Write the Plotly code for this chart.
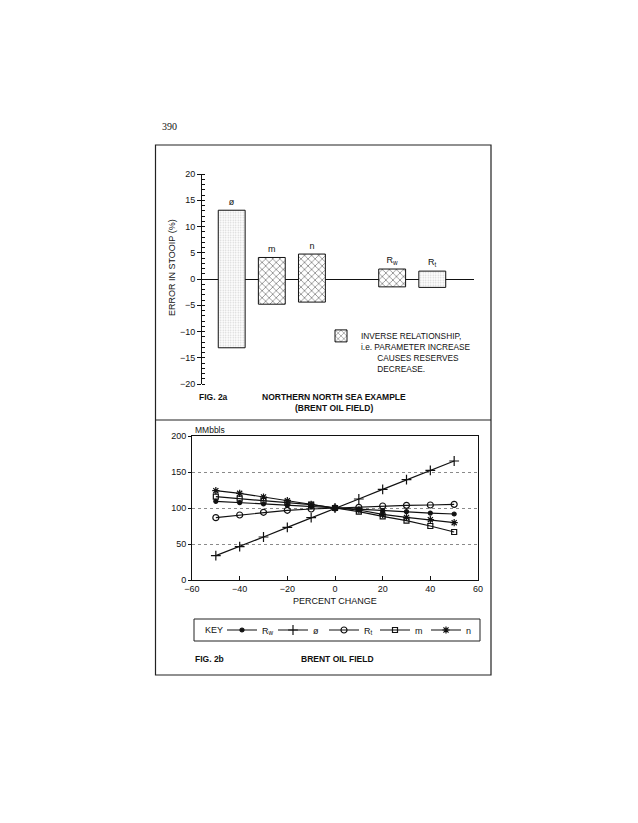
import plotly.graph_objects as go

W, H = 638, 823
FONT = "Liberation Sans"
INK = "#111111"

# ---------------- data: Fig. 2a (tornado-style error bars) ----------------
params = ["ø", "m", "n", "Rw", "Rt"]
param_labels = ["ø", "m", "n", "R<sub>w</sub>", "R<sub>t</sub>"]
error_upper = [13.1, 4.1, 4.75, 1.9, 1.5]
error_lower = [-13.1, -4.8, -4.4, -1.5, -1.6]
relationship = ["direct", "inverse", "inverse", "inverse", "direct"]
slot_order = ["ø", "m", "n", " ", "Rw", "Rt"]   # blank slot separates groups

# ---------------- data: Fig. 2b (STOOIP vs percent change) ----------------
pct_change = [-50, -40, -30, -20, -10, 0, 10, 20, 30, 40, 50]
stooip_rw = [109.3, 107.4, 105.6, 103.7, 101.9, 100, 98.1, 96.3, 94.9, 93.0, 91.7]
stooip_phi = [33.8, 46.3, 59.7, 73.1, 86.6, 100, 112.5, 125.9, 139.4, 152.3, 165.3]
stooip_rt = [86.6, 90.3, 94.0, 96.8, 98.6, 100, 101.0, 102.8, 103.7, 104.2, 105.1]
stooip_m = [115.7, 113.0, 110.0, 107.4, 104.6, 100, 95.0, 88.4, 82.4, 75.0, 66.7]
stooip_n = [124.0, 120.4, 115.3, 110.2, 105.0, 100, 97.2, 91.2, 87.0, 83.8, 79.6]
series_names = ["R<sub>w</sub>", "ø", "R<sub>t</sub>", "m", "n"]
series_values = [stooip_rw, stooip_phi, stooip_rt, stooip_m, stooip_n]


def px(x):
    return x / W


def py(y):
    return 1 - y / H


pattern_style = {
    "direct": dict(shape=".", size=2.5, solidity=0.3, fg="#a8a8a8"),
    "inverse": dict(shape="x", size=5, solidity=0.3, fg="#111111"),
}

fig = go.Figure()

fig.add_trace(go.Bar(
    x=params,
    base=error_lower,
    y=[u - l for u, l in zip(error_upper, error_lower)],
    width=0.67,
    text=param_labels,
    textposition="outside",
    textfont=dict(family=FONT, size=9, color=INK),
    cliponaxis=False,
    marker=dict(
        color="white",
        line=dict(color=INK, width=1),
        pattern=dict(
            shape=[pattern_style[r]["shape"] for r in relationship],
            size=[pattern_style[r]["size"] for r in relationship],
            solidity=[pattern_style[r]["solidity"] for r in relationship],
            fgcolor=[pattern_style[r]["fg"] for r in relationship],
            bgcolor="white",
            fillmode="overlay",
        ),
    ),
    showlegend=False,
    hoverinfo="skip",
    xaxis="x", yaxis="y",
))

# legend swatch for the inverse relationship hatch
inv = pattern_style["inverse"]
fig.add_trace(go.Bar(
    x=[None], y=[None],
    name=("INVERSE RELATIONSHIP,<br>i.e. PARAMETER INCREASE<br>"
          "\u00a0\u00a0\u00a0\u00a0\u00a0\u00a0\u00a0CAUSES RESERVES<br>"
          "\u00a0\u00a0\u00a0\u00a0\u00a0\u00a0\u00a0DECREASE."),
    marker=dict(color="white", line=dict(color=INK, width=1),
                pattern=dict(shape=inv["shape"], size=inv["size"],
                             solidity=inv["solidity"], fgcolor=inv["fg"],
                             bgcolor="white", fillmode="overlay")),
    legend="legend2",
    xaxis="x", yaxis="y",
))

symbols = ["circle", "cross-thin-open", "circle-open", "square-open", "asterisk-open"]
sizes = [4, 7, 6, 5, 6]
for name, vals, sym, sz in zip(series_names, series_values, symbols, sizes):
    fig.add_trace(go.Scatter(
        x=pct_change, y=vals, name=name, mode="lines+markers",
        line=dict(color=INK, width=1.2),
        marker=dict(symbol=sym, size=sz, color=INK,
                    line=dict(color=INK, width=1.2)),
        xaxis="x2", yaxis="y2", legend="legend",
    ))

tickfont = dict(family=FONT, size=9, color=INK)

fig.update_layout(
    width=W, height=H,
    margin=dict(l=0, r=0, t=0, b=0, pad=0),
    paper_bgcolor="white", plot_bgcolor="white",
    barmode="overlay",
    font=dict(family=FONT, size=9, color=INK),
    xaxis=dict(
        domain=[px(202), px(474)], anchor="y", automargin=False,
        type="category", categoryorder="array", categoryarray=slot_order,
        range=[-0.74, 6.04],
        showticklabels=False, showline=False, showgrid=False, ticks="",
        zeroline=False,
    ),
    yaxis=dict(
        domain=[py(384), py(174)], anchor="x", automargin=False,
        range=[-20, 20], tick0=0, dtick=5,
        ticks="outside", ticklen=4, tickcolor=INK, tickwidth=1,
        showline=True, linecolor=INK, linewidth=1,
        showgrid=False, zeroline=True, zerolinecolor=INK, zerolinewidth=1,
        tickfont=tickfont,
        minor=dict(dtick=1, ticks="inside", ticklen=3, tickcolor=INK,
                   tickwidth=1, showgrid=False),
    ),
    xaxis2=dict(
        domain=[px(192), px(478)], anchor="y2", automargin=False,
        range=[-60, 60], tick0=0, dtick=20,
        ticks="inside", ticklen=4, tickcolor=INK,
        showline=True, mirror=True, linecolor=INK, linewidth=1,
        showgrid=False, zeroline=False, tickfont=tickfont,
    ),
    yaxis2=dict(
        domain=[py(580), py(436)], anchor="x2", automargin=False,
        range=[0, 200], tick0=0, dtick=50,
        ticks="outside", ticklen=3, tickcolor=INK,
        showline=True, mirror=True, linecolor=INK, linewidth=1,
        showgrid=True, gridcolor="#8a8a8a", griddash="dot", gridwidth=1,
        zeroline=False, tickfont=tickfont,
    ),
    legend=dict(
        orientation="h", x=px(222), y=py(630), xanchor="left", yanchor="middle",
        bgcolor="rgba(0,0,0,0)", borderwidth=0,
        font=dict(family=FONT, size=9, color=INK),
        entrywidth=6, entrywidthmode="pixels", itemwidth=30,
        traceorder="normal",
    ),
    legend2=dict(
        x=px(321), y=py(324), xanchor="left", yanchor="top", valign="top",
        bgcolor="rgba(0,0,0,0)", borderwidth=0,
        font=dict(family=FONT, size=8.3, color=INK),
    ),
)

shape_line = dict(color="#222222", width=1.2)
fig.add_shape(type="rect", xref="paper", yref="paper",
              x0=px(155.5), x1=px(491), y0=py(675), y1=py(145), line=shape_line)
fig.add_shape(type="line", xref="paper", yref="paper",
              x0=px(155.5), x1=px(491), y0=py(420), y1=py(420), line=shape_line)
fig.add_shape(type="rect", xref="paper", yref="paper",
              x0=px(194), x1=px(480), y0=py(641), y1=py(619),
              line=dict(color="#222222", width=1))


def note(text, x, y, size=9, bold=False, xanchor="left", family=FONT, angle=0):
    fig.add_annotation(
        text=f"<b>{text}</b>" if bold else text,
        x=px(x), y=py(y), xref="paper", yref="paper",
        xanchor=xanchor, yanchor="middle", showarrow=False, textangle=angle,
        font=dict(family=family, size=size, color=INK),
    )


note("390", 160, 127, size=10, family="Liberation Serif")
note("ERROR IN STOOIP (%)", 172, 268, size=9, xanchor="center", angle=-90)
note("FIG. 2a", 197, 397, size=8.5, bold=True)
note("NORTHERN NORTH SEA EXAMPLE", 334, 397, size=8.5, bold=True, xanchor="center")
note("(BRENT OIL FIELD)", 334, 408, size=8.5, bold=True, xanchor="center")
note("MMbbls", 193, 430, size=8.5)
note("PERCENT CHANGE", 335, 601, size=9, xanchor="center")
note("KEY", 203, 630, size=9)
note("FIG. 2b", 193, 659, size=8.5, bold=True)
note("BRENT OIL FIELD", 337, 659, size=8.5, bold=True, xanchor="center")

fig.write_html("out.html", config={"displayModeBar": False},
               post_script="document.body.style.margin='0';")
